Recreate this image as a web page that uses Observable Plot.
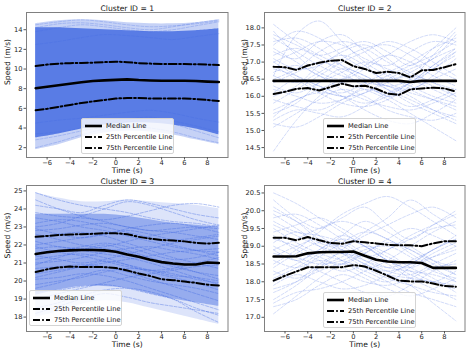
<!DOCTYPE html>
<html><head><meta charset="utf-8">
<script src="https://cdn.jsdelivr.net/npm/d3@7"></script>
<script src="https://cdn.jsdelivr.net/npm/@observablehq/plot@0.6"></script>
<style>
body{margin:0;background:#fff;}
#fig{position:relative;width:474px;height:354px;overflow:hidden;font-family:"DejaVu Sans",sans-serif;}
.cell{position:absolute;width:237px;height:177px;}
.legend{position:absolute;background:rgba(255,255,255,0.8);border:1px solid #d4d4d4;border-radius:2px;font-size:6.7px;color:#111;box-sizing:border-box;}
.legend .row{position:absolute;left:3px;display:flex;align-items:center;height:10px;white-space:nowrap;}
.legend svg{margin-right:4px;}
</style>
</head><body><div id="fig"></div>
<script>
// ---------- data ----------
const times = [-7,-6,-5,-4,-3,-2,-1,0,1,2,3,4,5,6,7,8,9];
const sparseTimes = [-7,-5,-3,-1,1,3,5,7,9];
const xTicks = [-6,-4,-2,0,2,4,6,8];

// Cluster 1
const c1Median = [8.05,8.2,8.35,8.5,8.65,8.78,8.85,8.9,8.95,8.88,8.84,8.8,8.8,8.8,8.78,8.72,8.68];
const c1P25 = [5.8,5.95,6.15,6.35,6.55,6.7,6.85,7.0,7.05,7.05,7.0,7.0,7.0,7.0,6.95,6.85,6.75];
const c1P75 = [10.3,10.45,10.55,10.6,10.62,10.65,10.7,10.75,10.7,10.6,10.55,10.5,10.5,10.5,10.48,10.45,10.4];
const c1OuterHi = [14.6,14.9,15.0,14.9,14.7,14.6,14.6,14.7,15.0];
const c1OuterLo = [1.8,2.3,3.0,3.5,3.7,3.6,3.3,2.8,2.3];
const c1InnerHi = [14.2,14.2,14.1,14.0,13.9,13.8,13.8,13.9,14.1];
const c1InnerLo = [3.0,3.4,3.9,4.3,4.5,4.5,4.3,3.9,3.3];
const c1Traj = [
 [14.5,14.8,15.0,14.8,14.5,14.3,14.4,14.6,14.9],
 [2.0,2.6,3.3,3.9,4.2,4.0,3.6,3.0,2.5],
 [13.8,14.2,14.5,14.3,14.0,13.8,14.0,14.4,14.8],
 [2.8,3.2,3.7,4.1,4.6,4.8,4.4,3.7,3.0],
 [12.5,12.8,13.2,13.5,13.4,13.2,13.0,13.3,13.6],
 [4.5,4.8,5.0,5.3,5.6,5.8,5.5,5.0,4.6],
 [14.2,14.6,14.7,14.5,14.2,14.0,14.3,14.7,15.0],
 [3.4,3.6,4.0,4.5,4.9,5.1,4.7,4.2,3.6]
];

// Cluster 2
const c2Median = [16.45,16.45,16.45,16.45,16.45,16.45,16.45,16.45,16.45,16.45,16.45,16.45,16.42,16.45,16.45,16.45,16.45];
const c2P25 = [16.07,16.13,16.22,16.24,16.17,16.27,16.37,16.29,16.31,16.22,16.08,16.04,16.2,16.23,16.25,16.23,16.14];
const c2P75 = [16.86,16.85,16.77,16.9,16.98,17.04,17.06,16.88,16.8,16.68,16.72,16.68,16.55,16.76,16.77,16.85,16.94];
const c2Traj = [
 [18.1,17.6,17.2,16.9,16.6,16.3,16.5,17.2,17.9],
 [16.6,17.8,18.2,17.6,17.0,16.6,16.3,16.0,15.8],
 [14.4,15.3,16.0,16.4,16.5,16.3,16.0,15.6,15.3],
 [15.1,15.5,15.9,16.2,16.0,15.6,15.4,15.3,15.5],
 [17.4,17.0,16.6,16.4,16.2,15.9,15.5,15.1,14.7],
 [17.8,17.5,17.2,17.4,17.6,17.3,16.9,17.4,18.0],
 [16.0,16.3,16.9,17.2,16.9,16.4,16.2,16.6,17.1],
 [16.8,16.6,16.3,16.1,16.4,16.7,17.0,17.4,17.7],
 [15.6,15.9,16.2,16.5,16.9,17.2,17.0,16.6,16.3],
 [17.1,16.8,16.9,17.3,17.5,17.1,16.6,16.3,16.0],
 [16.2,16.0,15.8,15.9,16.2,16.0,15.7,15.9,16.2],
 [15.3,15.6,15.5,15.4,15.7,16.1,16.4,16.8,17.3],
 [17.6,17.7,17.4,16.9,16.4,16.0,16.2,16.5,16.8],
 [16.4,16.7,17.0,16.8,16.5,16.2,15.9,15.6,15.4],
 [15.8,16.2,16.6,17.0,17.3,17.6,17.4,17.0,16.6],
 [17.0,17.3,17.6,17.5,17.1,16.9,17.3,17.6,17.5],
 [16.9,16.5,16.1,15.8,15.7,15.9,16.3,16.8,17.2],
 [15.2,15.1,15.4,15.8,16.1,16.4,16.6,16.4,16.0],
 [17.3,17.1,17.6,17.8,17.3,16.7,16.2,15.9,15.6],
 [16.1,16.5,16.3,16.0,15.6,15.3,15.2,15.5,15.9],
 [17.9,17.2,16.7,16.5,16.8,17.2,17.6,17.8,17.6],
 [16.7,16.9,16.6,16.2,15.9,15.7,15.6,15.8,16.1],
 [17.5,17.9,17.7,17.2,16.8,16.5,16.7,17.1,17.4],
 [15.5,15.8,16.4,16.8,16.6,16.2,15.8,15.5,15.2],
 [16.3,16.1,16.4,16.7,17.0,16.8,16.5,16.2,15.9],
 [17.2,17.4,17.1,16.7,16.3,16.1,16.4,16.9,17.3],
 [15.9,15.7,15.6,15.9,16.3,16.6,16.9,17.2,17.6],
 [16.6,16.4,16.7,17.1,17.4,17.5,17.2,16.8,16.5],
 [17.7,17.3,16.9,16.6,16.4,16.3,16.1,15.9,15.7],
 [15.4,15.9,16.1,16.0,15.8,16.0,16.4,16.9,17.4],
 [16.5,16.8,17.3,17.6,17.4,17.0,16.7,16.4,16.2],
 [17.0,16.6,16.2,16.0,16.1,16.5,16.8,17.1,17.8]
];

// Cluster 3
const c3Median = [21.5,21.6,21.67,21.7,21.72,21.72,21.7,21.62,21.47,21.35,21.18,21.05,20.97,20.92,20.92,21.03,21.0];
const c3P25 = [20.5,20.65,20.75,20.8,20.78,20.78,20.77,20.72,20.58,20.42,20.28,20.1,20.05,19.97,19.9,19.8,19.75];
const c3P75 = [22.45,22.5,22.55,22.58,22.6,22.62,22.65,22.65,22.6,22.45,22.35,22.28,22.25,22.2,22.12,22.08,22.12];
const c3OuterHi = [24.9,24.6,24.4,24.4,24.5,24.4,24.3,24.2,24.0];
const c3OuterLo = [18.0,18.3,18.7,18.9,18.8,18.5,18.2,17.9,17.6];
const c3InnerHi = [23.7,23.7,23.7,23.7,23.6,23.4,23.2,23.1,23.0];
const c3InnerLo = [19.2,19.5,19.7,19.7,19.6,19.3,19.0,18.8,18.6];
const c3Traj = [
 [24.9,24.5,24.2,24.0,23.8,23.5,23.3,23.2,23.0],
 [24.2,24.0,23.8,24.2,24.5,24.3,24.0,23.7,23.5],
 [23.8,23.6,23.5,23.4,23.6,23.9,24.2,24.3,24.1],
 [23.2,23.4,23.3,23.0,22.7,22.4,22.0,21.7,21.4],
 [22.8,22.9,23.1,23.2,23.0,22.8,22.9,23.0,22.9],
 [22.4,22.6,22.7,22.5,22.1,21.7,21.3,21.0,20.7],
 [22.0,22.2,22.4,22.6,22.8,22.6,22.3,22.4,22.6],
 [21.8,21.9,21.7,21.5,21.3,21.0,20.6,20.2,19.8],
 [21.5,21.7,21.9,22.1,21.9,21.5,21.2,21.3,21.6],
 [21.2,21.4,21.5,21.3,20.9,20.5,20.2,19.9,19.5],
 [21.0,21.1,21.3,21.6,21.8,21.9,21.7,21.5,21.2],
 [20.7,20.8,20.9,20.8,20.5,20.1,19.7,19.3,18.9],
 [20.4,20.6,20.8,21.0,21.2,21.4,21.6,21.7,21.8],
 [20.1,20.2,20.4,20.3,20.0,19.6,19.2,18.8,18.4],
 [19.8,20.0,20.2,20.5,20.7,20.6,20.4,20.1,19.9],
 [19.4,19.5,19.7,19.8,19.6,19.3,19.0,18.5,18.1],
 [19.0,19.3,19.6,19.9,20.2,20.4,20.6,20.8,20.9],
 [18.5,18.8,19.2,19.5,19.6,19.4,19.0,18.3,17.7],
 [22.6,22.3,22.0,21.8,21.6,21.2,20.8,20.5,20.3],
 [23.5,23.3,23.0,22.8,22.5,22.2,21.9,21.7,21.6],
 [21.4,21.2,21.0,21.2,21.5,21.8,22.1,22.3,22.5],
 [20.2,20.5,20.8,21.1,20.9,20.6,20.3,20.2,20.0],
 [22.9,22.6,22.4,22.6,22.9,23.1,23.2,23.0,22.7],
 [19.6,19.9,20.3,20.6,20.3,20.0,19.8,19.6,19.3],
 [24.5,24.0,23.6,23.3,23.0,22.8,22.7,22.5,22.3],
 [20.9,21.3,21.7,22.0,21.7,21.3,20.9,20.5,20.1],
 [21.9,21.6,21.4,21.1,20.8,20.6,20.7,21.0,21.3],
 [18.2,18.6,19.0,19.3,19.1,18.8,18.6,18.4,18.2],
 [23.0,23.2,23.6,24.0,24.4,24.2,23.8,23.4,23.1],
 [22.2,21.9,21.8,21.9,22.2,22.5,22.7,22.9,23.1]
];

// Cluster 4
const c4Median = [18.71,18.71,18.72,18.8,18.83,18.84,18.84,18.85,18.73,18.62,18.57,18.55,18.55,18.53,18.39,18.39,18.39];
const c4P25 = [18.03,18.17,18.29,18.41,18.41,18.41,18.41,18.47,18.43,18.31,18.17,18.03,18.01,18.01,17.95,17.88,17.86];
const c4P75 = [19.24,19.24,19.17,19.26,19.17,19.09,19.07,19.14,19.11,19.08,19.04,19.03,19.03,19.0,19.08,19.14,19.14];
const c4Traj = [
 [20.5,20.2,19.8,19.4,19.0,18.6,18.3,18.0,17.8],
 [20.3,19.8,19.5,19.8,20.1,19.6,19.2,19.6,20.0],
 [17.1,17.6,18.1,18.5,18.8,19.1,18.9,18.5,18.2],
 [17.5,17.9,18.4,18.9,19.4,19.8,20.3,19.9,19.5],
 [18.8,18.6,18.3,18.0,17.7,17.6,17.9,18.3,18.6],
 [19.6,19.3,19.0,18.8,18.5,18.2,17.9,17.4,16.9],
 [18.2,18.5,18.9,19.2,19.0,18.6,18.2,18.0,18.3],
 [19.9,19.5,19.1,18.9,18.7,18.9,19.3,19.6,19.9],
 [18.5,18.9,19.4,19.9,20.2,20.4,20.1,19.7,19.3],
 [17.8,18.0,18.3,18.5,18.3,18.0,17.7,17.5,17.3],
 [19.2,19.0,18.7,18.5,18.8,19.2,19.5,19.3,19.0],
 [18.0,18.3,18.6,18.4,18.1,17.8,17.6,17.8,18.1],
 [20.0,19.7,19.3,18.9,18.5,18.3,18.5,18.9,19.2],
 [18.6,18.4,18.7,19.1,19.4,19.2,18.8,18.4,18.0],
 [19.4,19.6,19.8,19.5,19.1,18.7,18.5,18.7,18.9],
 [17.4,17.7,17.8,18.0,18.3,18.6,19.0,19.4,19.7],
 [19.0,18.7,18.5,18.6,18.9,19.0,18.7,18.3,18.1],
 [18.4,18.8,19.1,19.0,18.6,18.3,18.2,18.5,18.8],
 [19.8,19.9,19.6,19.2,18.8,18.5,18.1,17.8,17.5],
 [18.9,19.2,19.5,19.7,19.5,19.2,18.9,18.6,18.4],
 [17.9,18.2,18.0,17.8,17.9,18.2,18.5,18.9,19.2],
 [19.5,19.1,18.8,18.6,18.4,18.2,18.1,18.0,17.9],
 [19.1,19.4,19.0,18.6,18.2,18.0,18.4,18.8,19.1],
 [18.3,18.1,18.4,18.7,19.0,18.8,18.4,18.1,17.7],
 [20.1,19.7,19.2,19.0,19.3,19.6,19.9,20.1,19.8],
 [17.7,18.0,18.5,18.8,18.6,18.4,18.6,18.9,19.3],
 [18.7,19.0,19.2,18.8,18.4,18.1,17.9,17.7,17.6],
 [19.3,18.9,18.6,18.3,18.5,18.9,19.2,19.5,19.6],
 [18.1,18.4,18.8,19.3,19.7,19.4,19.0,18.6,18.2],
 [19.7,19.4,19.3,19.1,18.7,18.4,18.3,18.2,18.0],
 [17.3,17.5,17.9,18.2,18.0,17.9,18.1,18.4,18.5],
 [18.9,18.6,18.9,19.3,19.0,18.6,18.4,18.7,19.0]
];

const yTicks1 = [2,4,6,8,10,12,14];
const yTicks2 = [14.5,15.0,15.5,16.0,16.5,17.0,17.5,18.0];
const yTicks3 = [18,19,20,21,22,23,24,25];
const yTicks4 = [17.0,17.5,18.0,18.5,19.0,19.5,20.0,20.5];
const titles = ["Cluster ID = 1","Cluster ID = 2","Cluster ID = 3","Cluster ID = 4"];
const legendLabels = ["Median Line","25th Percentile Line","75th Percentile Line"];

// ---------- drawing ----------
const BLUE = "#4169e1";
const fig = document.getElementById("fig");

function trajRows(traj){
  const rows=[];
  traj.forEach((arr,i)=>arr.forEach((v,j)=>rows.push({t:sparseTimes[j],v,id:i})));
  return rows;
}
function bandRows(lo,hi){ return sparseTimes.map((t,j)=>({t,lo:lo[j],hi:hi[j]})); }
function statRows(a){ return times.map((t,j)=>({t,v:a[j]})); }

function panel(cfg){
  const marks=[];
  (cfg.bands||[]).forEach(b=>marks.push(Plot.areaY(bandRows(b.lo,b.hi),{x:"t",y1:"lo",y2:"hi",fill:BLUE,fillOpacity:b.op,curve:"catmull-rom"})));
  marks.push(Plot.line(trajRows(cfg.traj),{x:"t",y:"v",z:"id",stroke:BLUE,strokeOpacity:cfg.trajOp,strokeWidth:0.8,strokeDasharray:"3,1.6",curve:"catmull-rom"}));
  marks.push(Plot.line(statRows(cfg.median),{x:"t",y:"v",stroke:"#000",strokeWidth:2.6}));
  marks.push(Plot.line(statRows(cfg.p25),{x:"t",y:"v",stroke:"#000",strokeWidth:2,strokeDasharray:"8,2.5,1.8,2.5"}));
  marks.push(Plot.line(statRows(cfg.p75),{x:"t",y:"v",stroke:"#000",strokeWidth:2,strokeDasharray:"8,2.5,1.8,2.5"}));
  marks.push(Plot.frame({stroke:"#808080",strokeWidth:1}));
  marks.push(Plot.axisX({ticks:xTicks,tickSize:2.5,tickPadding:0.5,stroke:"#555",fill:"#222",fontSize:6.7,label:null,tickFormat:d=>String(d).replace("-","\u2212")}));
  marks.push(Plot.axisY({ticks:cfg.yTicks,tickSize:2.5,tickPadding:1.5,stroke:"#555",fill:"#222",fontSize:6.7,label:null,tickFormat:cfg.fmt}));
  marks.push(Plot.text([cfg.title],{frameAnchor:"top",dy:-6.5,fontSize:7.6,fill:"#111"}));
  marks.push(Plot.text(["Time (s)"],{frameAnchor:"bottom",dy:15.5,fontSize:7.6,fill:"#111"}));
  marks.push(Plot.text(["Speed (m/s)"],{frameAnchor:"left",dx:-(cfg.ml-7),rotate:-90,fontSize:7.6,fill:"#111"}));
  const p = Plot.plot({
    width:237,height:177,
    marginLeft:cfg.ml,marginRight:cfg.mr,marginTop:cfg.mt,marginBottom:cfg.mb,
    style:{fontFamily:"DejaVu Sans",background:"transparent",overflow:"visible"},
    x:{domain:[-7.8,9.8]},
    y:{domain:cfg.ydom},
    marks
  });
  const cell=document.createElement("div");
  cell.className="cell"; cell.style.left=cfg.left+"px"; cell.style.top=cfg.top+"px";
  cell.appendChild(p); fig.appendChild(cell);
  // legend
  const lg=document.createElement("div");
  lg.className="legend";
  lg.style.left=cfg.lg[0]+"px"; lg.style.top=cfg.lg[1]+"px"; lg.style.width="93px"; lg.style.height="36px";
  legendLabels.forEach((lab,i)=>{
    const r=document.createElement("div"); r.className="row"; r.style.top=(1.5+i*11.3)+"px";
    const dash = i===0 ? "" : 'stroke-dasharray="7,2.2,1.6,2.2"';
    const sw = i===0 ? 2.6 : 2;
    r.innerHTML=`<svg width="17" height="6"><line x1="0" x2="17" y1="3" y2="3" stroke="#000" stroke-width="${sw}" ${dash}/></svg><span>${lab}</span>`;
    lg.appendChild(r);
  });
  fig.appendChild(lg);
}

const f1 = d=>String(d);
const f2 = d=>d.toFixed(1);

panel({left:0,top:0,ml:26,mr:9.5,mt:12,mb:20,ydom:[1.0,15.75],yTicks:yTicks1,fmt:f1,title:titles[0],
  median:c1Median,p25:c1P25,p75:c1P75,traj:c1Traj,trajOp:0.35,
  bands:[{lo:c1OuterLo,hi:c1OuterHi,op:0.3},{lo:c1InnerLo,hi:c1InnerHi,op:0.82}],lg:[81,118]});
panel({left:237,top:0,ml:27,mr:9.5,mt:12,mb:20,ydom:[14.21,18.45],yTicks:yTicks2,fmt:f2,title:titles[1],
  median:c2Median,p25:c2P25,p75:c2P75,traj:c2Traj,trajOp:0.3,bands:[],lg:[323,118]});
panel({left:0,top:177,ml:26,mr:9.5,mt:8,mb:23,ydom:[17.2,25.3],yTicks:yTicks3,fmt:f1,title:titles[2],
  median:c3Median,p25:c3P25,p75:c3P75,traj:c3Traj,trajOp:0.5,
  bands:[{lo:c3OuterLo,hi:c3OuterHi,op:0.18},{lo:c3InnerLo,hi:c3InnerHi,op:0.45}],lg:[29,290]});
panel({left:237,top:177,ml:27,mr:9.5,mt:8,mb:23,ydom:[16.6,20.71],yTicks:yTicks4,fmt:f2,title:titles[3],
  median:c4Median,p25:c4P25,p75:c4P75,traj:c4Traj,trajOp:0.3,bands:[],lg:[323,292]});
</script></body></html>
